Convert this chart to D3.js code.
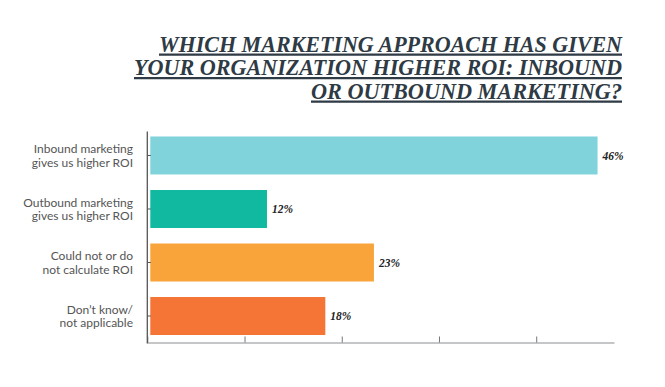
<!DOCTYPE html>
<html>
<head>
<meta charset="utf-8">
<script src="https://cdn.jsdelivr.net/npm/d3@7"></script>
<style>
  html, body { margin: 0; padding: 0; background: #fff; }
  svg { display: block; }
</style>
</head>
<body>
<svg id="chart" width="665" height="387"></svg>
<script>
const titleLines = ["WHICH MARKETING APPROACH HAS GIVEN", "YOUR ORGANIZATION HIGHER ROI: INBOUND", "OR OUTBOUND MARKETING?"];
const categories = [
  ["Inbound marketing", "gives us higher ROI"],
  ["Outbound marketing", "gives us higher ROI"],
  ["Could not or do", "not calculate ROI"],
  ["Don\u2019t know/", "not applicable"]
];
const values = [46, 12, 23, 18];
const valueLabels = ["46%", "12%", "23%", "18%"];
const colors = ["#80d3db", "#12b9a1", "#f9a33b", "#f47536"];
const xTicks = [0, 10, 20, 30, 40];

const svg = d3.select("#chart");

// Title
const titleRight = 622;
const titleWidths = [463, 488, 311];
const title = svg.append("g");
titleLines.forEach((t, i) => {
  title.append("text")
    .attr("x", titleRight)
    .attr("y", 51.5 + i * 23.5)
    .attr("text-anchor", "end")
    .style("font-family", "'Liberation Serif', serif")
    .attr("font-weight", "bold")
    .attr("font-style", "italic")
    .attr("font-size", 22.5)
    .attr("fill", "#2e3a44")
    .attr("text-decoration", "underline")
    .attr("textLength", titleWidths[i])
    .attr("lengthAdjust", "spacingAndGlyphs")
    .text(t);
});

const x = d3.scaleLinear().domain([0, 48]).range([147.3, 614]);
const y = d3.scaleBand().domain(d3.range(categories.length)).range([129, 342.5]).paddingInner(0.29).paddingOuter(0.14);
const barOffset = 3;

// Bars
svg.append("g").selectAll("rect")
  .data(values)
  .join("rect")
  .attr("x", x(0) + barOffset)
  .attr("y", (d, i) => y(i))
  .attr("width", d => x(d) - x(0))
  .attr("height", y.bandwidth())
  .attr("fill", (d, i) => colors[i]);

// Value labels
svg.append("g").selectAll("text")
  .data(values)
  .join("text")
  .attr("x", d => x(d) + barOffset + 5)
  .attr("y", (d, i) => y(i) + y.bandwidth() / 2)
  .attr("dy", "0.35em")
  .style("font-family", "'Liberation Serif', serif")
  .attr("font-weight", "bold")
  .attr("font-style", "italic")
  .attr("font-size", 11.5)
  .attr("fill", "#222")
  .text((d, i) => valueLabels[i]);

// Bottom axis
const xAxis = d3.axisBottom(x).tickValues(xTicks).tickSizeInner(-6).tickSizeOuter(0).tickFormat("");
const gx = svg.append("g").attr("transform", `translate(0,${342.5})`).call(xAxis);
gx.select(".domain").attr("stroke", "#c4c6c8").attr("stroke-width", 2);
gx.selectAll(".tick line").attr("stroke", "#777");

// Left axis
const yAxis = d3.axisLeft(y).tickSizeInner(-3.5).tickSizeOuter(0).tickFormat("");
const gy = svg.append("g").attr("transform", `translate(${147.3},0)`).call(yAxis);
gy.select(".domain").attr("stroke", "#555").attr("stroke-width", 1.3)
  .attr("d", `M0,131.5V343.5`);
gy.selectAll(".tick line").attr("stroke", "#555");

// Category labels
const labels = svg.append("g");
categories.forEach((lines, i) => {
  const cy = y(i) + y.bandwidth() / 2;
  lines.forEach((l, j) => {
    labels.append("text")
      .attr("x", 133)
      .attr("y", cy + (j - 0.5) * 13.5 + 4.5)
      .attr("text-anchor", "end")
      .style("font-family", "Lato, sans-serif")
      .attr("font-weight", 400)
      .attr("font-size", 12)
      .attr("fill", "#555")
      .text(l);
  });
});
</script>
</body>
</html>
